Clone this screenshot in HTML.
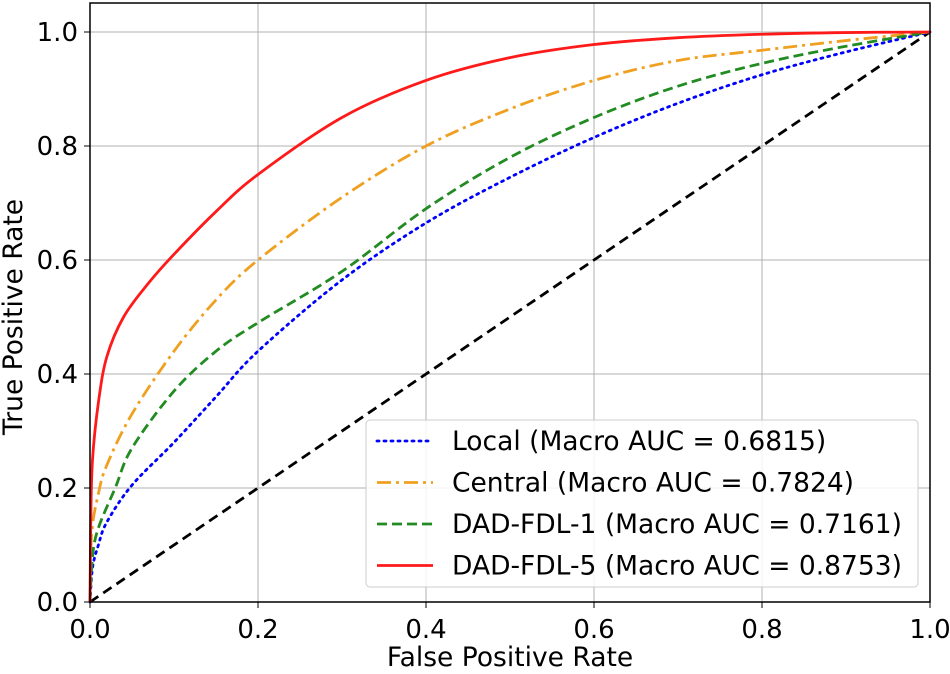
<!DOCTYPE html>
<html><head><meta charset="utf-8"><style>
body{margin:0;background:#fff;}
svg text{font-family:"DejaVu Sans","Liberation Sans",sans-serif;fill:#000;}
</style></head><body>
<svg id="chart" width="950" height="669" xmlns="http://www.w3.org/2000/svg">
<g id="grid"></g>
<g id="series"></g>
<rect x="90" y="3" width="840" height="599" fill="none" stroke="#000" stroke-width="1.5"/>
<g id="ticks"></g>
<text x="510" y="666" font-size="26.5" text-anchor="middle">False Positive Rate</text>
<text transform="translate(22,317) rotate(-90)" font-size="26.5" text-anchor="middle">True Positive Rate</text>
<g id="legend"></g>
</svg>
<script>
const tickVals=[0,0.2,0.4,0.6,0.8,1.0];
const tickLabels=["0.0","0.2","0.4","0.6","0.8","1.0"];
const seriesNames=["Local (Macro AUC = 0.6815)","Central (Macro AUC = 0.7824)","DAD-FDL-1 (Macro AUC = 0.7161)","DAD-FDL-5 (Macro AUC = 0.8753)"];
const localFpr=[0,0.003,0.01,0.02,0.05,0.1,0.15,0.2,0.3,0.4,0.5,0.6,0.7,0.8,0.9,1];
const localTpr=[0,0.06,0.1,0.14,0.205,0.28,0.36,0.44,0.565,0.665,0.745,0.815,0.875,0.925,0.965,1];
const centralFpr=[0,0.002,0.01,0.02,0.05,0.1,0.15,0.2,0.3,0.4,0.5,0.6,0.7,0.8,0.9,1];
const centralTpr=[0,0.12,0.19,0.24,0.33,0.44,0.53,0.6,0.71,0.8,0.865,0.915,0.95,0.968,0.985,1];
const fdl1Fpr=[0,0.003,0.01,0.03,0.05,0.1,0.15,0.2,0.3,0.4,0.5,0.6,0.7,0.8,0.9,1];
const fdl1Tpr=[0,0.08,0.13,0.2,0.27,0.37,0.44,0.49,0.58,0.69,0.78,0.85,0.905,0.945,0.975,1];
const fdl5Fpr=[0,0.001,0.003,0.01,0.02,0.04,0.07,0.1,0.15,0.2,0.3,0.4,0.5,0.6,0.7,0.8,0.9,1];
const fdl5Tpr=[0,0.15,0.25,0.35,0.43,0.5,0.56,0.61,0.685,0.75,0.85,0.915,0.955,0.978,0.99,0.996,0.999,1];
const X=v=>90+v*840, Y=v=>602-v*570;
const NS="http://www.w3.org/2000/svg";
function mk(t,a,p){const e=document.createElementNS(NS,t);for(const k in a)e.setAttribute(k,a[k]);p.appendChild(e);return e;}
function smooth(P){
 let d='M'+P[0][0]+','+P[0][1];
 for(let i=0;i<P.length-1;i++){
  const p0=P[i-1]||P[i],p1=P[i],p2=P[i+1],p3=P[i+2]||P[i+1];
  const c1=[p1[0]+(p2[0]-p0[0])/6,p1[1]+(p2[1]-p0[1])/6];
  const c2=[p2[0]-(p3[0]-p1[0])/6,p2[1]-(p3[1]-p1[1])/6];
  d+=' C'+c1[0]+','+c1[1]+' '+c2[0]+','+c2[1]+' '+p2[0]+','+p2[1];
 }
 return d;
}
const grid=document.getElementById('grid'),ticks=document.getElementById('ticks'),ser=document.getElementById('series'),leg=document.getElementById('legend');
tickVals.forEach((v,i)=>{
 let g=mk('line',{x1:X(v),x2:X(v),y1:3,y2:602,stroke:'#b0b0b0','stroke-width':1},grid);
 
 
 g=mk('line',{x1:90,x2:930,y1:Y(v),y2:Y(v),stroke:'#b0b0b0','stroke-width':1},grid);
 
 
 let t=mk('line',{x1:X(v),x2:X(v),y1:602,y2:608,stroke:'#000'},ticks);
 
 
 t=mk('line',{x1:84,x2:90,y1:Y(v),y2:Y(v),stroke:'#000'},ticks);
 
 
 let l=mk('text',{x:X(v),y:638,'font-size':26,'text-anchor':'middle'},ticks);l.textContent=tickLabels[i];
 
 
 l=mk('text',{x:78,y:Y(v)+9,'font-size':26,'text-anchor':'end'},ticks);l.textContent=tickLabels[i];
 
 
});
const styles=[{c:'#0000ff',d:'2,5',cap:'round',w:2.8},{c:'#f0a020',d:'14,5,3,5',cap:'butt',w:2.8},{c:'#228b22',d:'10,5',cap:'butt',w:2.8},{c:'#ff1a1a',d:'',cap:'butt',w:2.8}];
const data=[[localFpr,localTpr],[centralFpr,centralTpr],[fdl1Fpr,fdl1Tpr],[fdl5Fpr,fdl5Tpr]];
const names=['local-curve','central-curve','dad-fdl-1-curve','dad-fdl-5-curve'];
let diag=mk('line',{x1:X(0),y1:Y(0),x2:X(1),y2:Y(1),stroke:'#000','stroke-width':2.8,'stroke-dasharray':'10,6'},ser);


data.forEach((d,i)=>{
 const s=styles[i];
 const P=d[0].map((f,j)=>[X(f),Y(d[1][j])]);
 const p=mk('path',{d:smooth(P),fill:'none',stroke:s.c,'stroke-width':s.w,'stroke-dasharray':s.d,'stroke-linecap':s.cap,'stroke-linejoin':'round'},ser);
 
 
});
const box=mk('rect',{x:366,y:420,width:552,height:167,rx:4,fill:'#fff','fill-opacity':0.85,stroke:'#ccc'},leg);


seriesNames.forEach((n,i)=>{
 const s=styles[i],y=441+i*41.5;
 const ln=mk('line',{x1:377,x2:433,y1:y,y2:y,stroke:s.c,'stroke-width':s.w,'stroke-dasharray':s.d,'stroke-linecap':s.cap},leg);
 
 
 const t=mk('text',{x:452,y:y+9,'font-size':26.5},leg);t.textContent=n;
 
 
});
</script>
</body></html>
